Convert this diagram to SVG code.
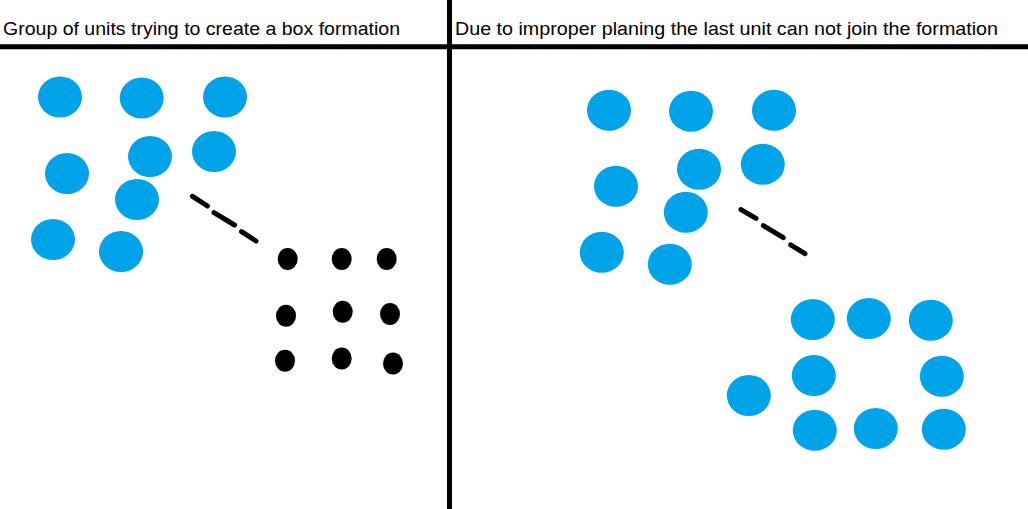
<svg xmlns="http://www.w3.org/2000/svg" width="1028" height="509" viewBox="0 0 1028 509">
<style>
.u{fill:#00A2E8}
.d{fill:#000}
.t{font-family:"Liberation Sans","Open Sans",sans-serif;font-size:19px;fill:#000}
.dash{stroke:#000;stroke-width:5;stroke-linecap:round;fill:none}
.div{stroke:#000;stroke-width:5;fill:none}
</style>
<rect width="1028" height="509" fill="#fff"/>
<g id="dividers">
<line class="div" x1="0" y1="46.8" x2="1028" y2="46.8"/>
<line class="div" x1="449.5" y1="0" x2="449.5" y2="509"/>
</g>
<g id="titles">
<text class="t" x="3" y="35" textLength="397" lengthAdjust="spacingAndGlyphs">Group of units trying to create a box formation</text>
<text class="t" x="455" y="35" textLength="543" lengthAdjust="spacingAndGlyphs">Due to improper planing the last unit can not join the formation</text>
</g>
<g id="left-units">
<g id="lu1"><ellipse class="u" cx="60" cy="97" rx="22" ry="20.5"/></g>
<g id="lu2"><ellipse class="u" cx="141.7" cy="98" rx="22" ry="20.5"/></g>
<g id="lu3"><ellipse class="u" cx="225" cy="97" rx="22" ry="20.5"/></g>
<g id="lu4"><ellipse class="u" cx="150" cy="156.5" rx="22" ry="20.5"/></g>
<g id="lu5"><ellipse class="u" cx="214" cy="151.5" rx="22" ry="20.5"/></g>
<g id="lu6"><ellipse class="u" cx="67" cy="173.5" rx="22" ry="20.5"/></g>
<g id="lu7"><ellipse class="u" cx="137" cy="199.5" rx="22" ry="20.5"/></g>
<g id="lu8"><ellipse class="u" cx="53" cy="239.5" rx="22" ry="20.5"/></g>
<g id="lu9"><ellipse class="u" cx="121" cy="251.5" rx="22" ry="20.5"/></g>
</g>
<g id="left-targets">
<g id="lt1"><ellipse class="d" cx="287.7" cy="259" rx="10" ry="11"/></g>
<g id="lt2"><ellipse class="d" cx="341.7" cy="259" rx="10" ry="11"/></g>
<g id="lt3"><ellipse class="d" cx="386.7" cy="259" rx="10" ry="11"/></g>
<g id="lt4"><ellipse class="d" cx="286" cy="315.8" rx="10" ry="11"/></g>
<g id="lt5"><ellipse class="d" cx="342.7" cy="311.7" rx="10" ry="11"/></g>
<g id="lt6"><ellipse class="d" cx="390" cy="314" rx="10" ry="11"/></g>
<g id="lt7"><ellipse class="d" cx="285" cy="360.8" rx="10" ry="11"/></g>
<g id="lt8"><ellipse class="d" cx="341.7" cy="358.5" rx="10" ry="11"/></g>
<g id="lt9"><ellipse class="d" cx="393" cy="363.5" rx="10" ry="11"/></g>
</g>
<g id="right-units">
<g id="ru1"><ellipse class="u" cx="609" cy="110.3" rx="22" ry="20.5"/></g>
<g id="ru2"><ellipse class="u" cx="691" cy="111.3" rx="22" ry="20.5"/></g>
<g id="ru3"><ellipse class="u" cx="774" cy="110.3" rx="22" ry="20.5"/></g>
<g id="ru4"><ellipse class="u" cx="699" cy="169.2" rx="22" ry="20.5"/></g>
<g id="ru5"><ellipse class="u" cx="762.8" cy="164.3" rx="22" ry="20.5"/></g>
<g id="ru6"><ellipse class="u" cx="616" cy="186.3" rx="22" ry="20.5"/></g>
<g id="ru7"><ellipse class="u" cx="685.8" cy="212.3" rx="22" ry="20.5"/></g>
<g id="ru8"><ellipse class="u" cx="601.8" cy="252.3" rx="22" ry="20.5"/></g>
<g id="ru9"><ellipse class="u" cx="669.8" cy="264.3" rx="22" ry="20.5"/></g>
</g>
<g id="right-formation">
<g id="rf1"><ellipse class="u" cx="812.8" cy="319.5" rx="22" ry="20.5"/></g>
<g id="rf2"><ellipse class="u" cx="868.8" cy="318.5" rx="22" ry="20.5"/></g>
<g id="rf3"><ellipse class="u" cx="930.8" cy="320.3" rx="22" ry="20.5"/></g>
<g id="rf4"><ellipse class="u" cx="813.8" cy="375.5" rx="22" ry="20.5"/></g>
<g id="rf5"><ellipse class="u" cx="941.8" cy="376.3" rx="22" ry="20.5"/></g>
<g id="rf6"><ellipse class="u" cx="748.8" cy="395.5" rx="22" ry="20.5"/></g>
<g id="rf7"><ellipse class="u" cx="814.8" cy="430.3" rx="22" ry="20.5"/></g>
<g id="rf8"><ellipse class="u" cx="875.8" cy="428.5" rx="22" ry="20.5"/></g>
<g id="rf9"><ellipse class="u" cx="943.8" cy="429.3" rx="22" ry="20.5"/></g>
</g>
<g id="connectors">
<line class="dash" x1="192.5" y1="196.3" x2="207.5" y2="206"/>
<line class="dash" x1="214" y1="212.6" x2="234.5" y2="225"/>
<line class="dash" x1="241.5" y1="231.6" x2="256" y2="241"/>
<line class="dash" x1="741" y1="209.6" x2="756" y2="218.4"/>
<line class="dash" x1="763.4" y1="225.6" x2="783.3" y2="237.7"/>
<line class="dash" x1="790.7" y1="244.9" x2="805" y2="253.7"/>
</g>
</svg>
